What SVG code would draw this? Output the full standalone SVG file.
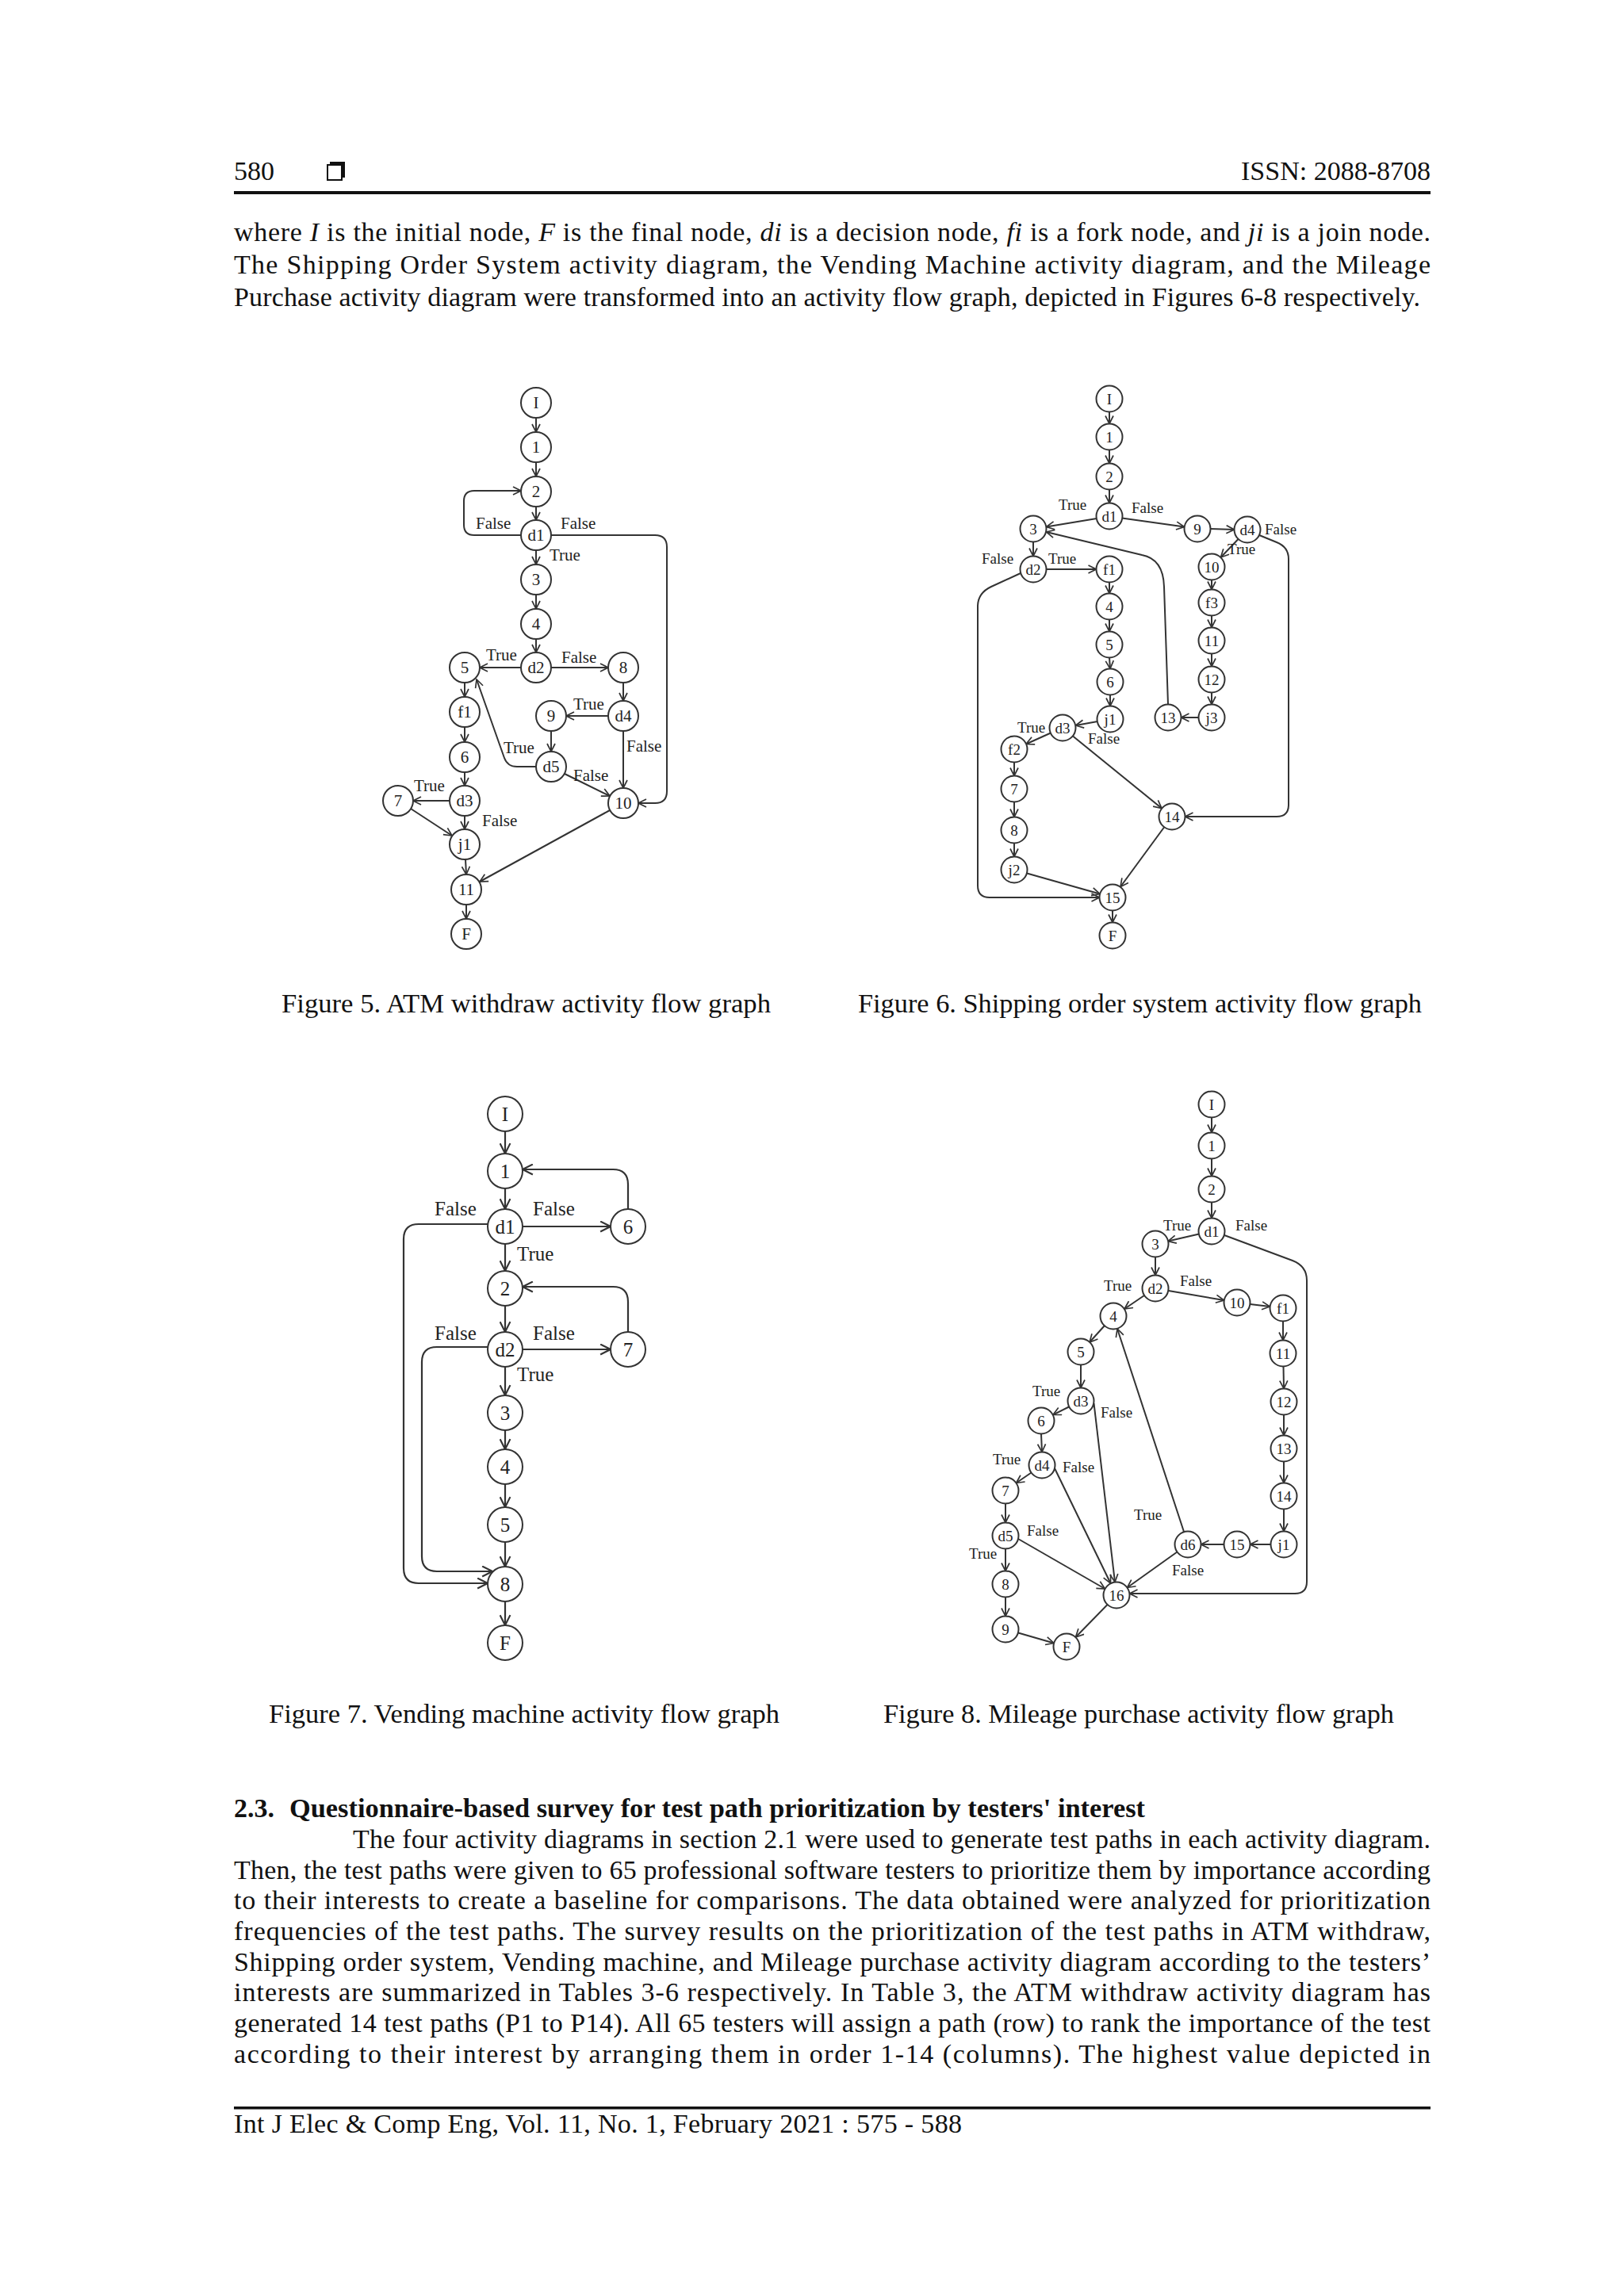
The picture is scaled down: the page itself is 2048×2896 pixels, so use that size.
<svg xmlns="http://www.w3.org/2000/svg" width="2048" height="2896" viewBox="0 0 2048 2896">
<style>
.pg{font-family:"Liberation Serif","Times New Roman",serif;font-size:34px;fill:#111}
.b{font-weight:bold}
.n circle{fill:#fff;stroke:#333;stroke-width:2}
.n text{font-family:"Liberation Serif","Times New Roman",serif;fill:#222;text-anchor:middle}
.f5 text{font-size:21px}
.f6 text,.f8 text{font-size:19px}
.f7 text{font-size:25px}
.e path{fill:none;stroke:#333;stroke-width:2;marker-end:url(#arr)}
.e7 path{fill:none;stroke:#333;stroke-width:2.2;marker-end:url(#arrL)}
.lb{font-family:"Liberation Serif","Times New Roman",serif;fill:#222}
.l5{font-size:21px}.l6{font-size:19px}.l7{font-size:25px}
</style>
<defs>
<marker id="arr" viewBox="0 0 12 12" refX="11" refY="6" markerWidth="12" markerHeight="12" markerUnits="userSpaceOnUse" orient="auto"><path d="M1,1 L11,6 L1,11" fill="none" stroke="#333" stroke-width="1.7"/></marker>
<marker id="arrL" viewBox="0 0 14 14" refX="13" refY="7" markerWidth="15" markerHeight="15" markerUnits="userSpaceOnUse" orient="auto"><path d="M1,1 L13,7 L1,13" fill="none" stroke="#333" stroke-width="2"/></marker>
</defs>
<rect width="2048" height="2896" fill="#fff"/>

<!-- header -->
<g id="header">
<text class="pg" x="295" y="227">580</text>
<rect x="413" y="208" width="18" height="19" fill="#fff" stroke="#111" stroke-width="2"/>
<path d="M416,204 L435,204 L435,224 L431,224 L431,208 L416,208 Z" fill="#111"/>
<text class="pg" x="1804" y="227" text-anchor="end">ISSN: 2088-8708</text>
<rect x="295" y="241" width="1509" height="4" fill="#111"/>
</g>

<g id="intro">
<text class="pg" x="295" y="304" textLength="1509" lengthAdjust="spacing">where <tspan font-style="italic">I</tspan> is the initial node, <tspan font-style="italic">F</tspan> is the final node, <tspan font-style="italic">di</tspan> is a decision node, <tspan font-style="italic">fi</tspan> is a fork node, and <tspan font-style="italic">ji</tspan> is a join node.</text>
<text class="pg" x="295" y="345" textLength="1509" lengthAdjust="spacing">The Shipping Order System activity diagram, the Vending Machine activity diagram, and the Mileage</text>
<text class="pg" x="295" y="386" textLength="1496" lengthAdjust="spacing">Purchase activity diagram were transformed into an activity flow graph, depicted in Figures 6-8 respectively.</text>
</g>

<!-- ================= Figure 5 ================= -->
<g id="fig5">
<g id="fig5-edges" class="e">
<path d="M676,527 L676,545"/>
<path d="M676,583 L676,601"/>
<path d="M676,639 L676,656"/>
<path d="M676,694 L676,712"/>
<path d="M676,750 L676,768"/>
<path d="M676,806 L676,823"/>
<path d="M657,842 L605,842"/>
<path d="M695,842 L767,842"/>
<path d="M786,861 L786,884"/>
<path d="M767,903 L714,903"/>
<path d="M786,922 L786,994"/>
<path d="M695,922 L695,948"/>
<path d="M712,976 L769,1004"/>
<path d="M676,967 L652,967 Q640,967 636,956 L601,857"/>
<path d="M586,861 L586,879"/>
<path d="M586,917 L586,936"/>
<path d="M586,974 L586,991"/>
<path d="M567,1010 L521,1010"/>
<path d="M586,1029 L586,1046"/>
<path d="M587,1084 L588,1103"/>
<path d="M588,1141 L588,1159"/>
<path d="M518,1020 L570,1054"/>
<path d="M769,1022 L605,1112"/>
<path d="M695,675 L826,675 Q841,675 841,690 L841,998 Q841,1013 826,1013 L805,1013"/>
<path d="M657,675 L598,675 Q585,675 585,662 L585,632 Q585,619 598,619 L657,619"/>
</g>
<g class="n f5">
<g id="f5-I"><circle cx="676" cy="508" r="19"/><text x="676" y="515">I</text></g>
<g id="f5-1"><circle cx="676" cy="564" r="19"/><text x="676" y="571">1</text></g>
<g id="f5-2"><circle cx="676" cy="620" r="19"/><text x="676" y="627">2</text></g>
<g id="f5-d1"><circle cx="676" cy="675" r="19"/><text x="676" y="682">d1</text></g>
<g id="f5-3"><circle cx="676" cy="731" r="19"/><text x="676" y="738">3</text></g>
<g id="f5-4"><circle cx="676" cy="787" r="19"/><text x="676" y="794">4</text></g>
<g id="f5-d2"><circle cx="676" cy="842" r="19"/><text x="676" y="849">d2</text></g>
<g id="f5-5"><circle cx="586" cy="842" r="19"/><text x="586" y="849">5</text></g>
<g id="f5-8"><circle cx="786" cy="842" r="19"/><text x="786" y="849">8</text></g>
<g id="f5-f1"><circle cx="586" cy="898" r="19"/><text x="586" y="905">f1</text></g>
<g id="f5-6"><circle cx="586" cy="955" r="19"/><text x="586" y="962">6</text></g>
<g id="f5-d3"><circle cx="586" cy="1010" r="19"/><text x="586" y="1017">d3</text></g>
<g id="f5-7"><circle cx="502" cy="1010" r="19"/><text x="502" y="1017">7</text></g>
<g id="f5-j1"><circle cx="586" cy="1065" r="19"/><text x="586" y="1072">j1</text></g>
<g id="f5-11"><circle cx="588" cy="1122" r="19"/><text x="588" y="1129">11</text></g>
<g id="f5-F"><circle cx="588" cy="1178" r="19"/><text x="588" y="1185">F</text></g>
<g id="f5-d4"><circle cx="786" cy="903" r="19"/><text x="786" y="910">d4</text></g>
<g id="f5-9"><circle cx="695" cy="903" r="19"/><text x="695" y="910">9</text></g>
<g id="f5-d5"><circle cx="695" cy="967" r="19"/><text x="695" y="974">d5</text></g>
<g id="f5-10"><circle cx="786" cy="1013" r="19"/><text x="786" y="1020">10</text></g>
</g>
<g id="fig5-labels" class="lb l5">
<text x="600" y="667">False</text>
<text x="707" y="667">False</text>
<text x="693" y="707">True</text>
<text x="613" y="833">True</text>
<text x="708" y="836">False</text>
<text x="723" y="895">True</text>
<text x="790" y="948">False</text>
<text x="635" y="950">True</text>
<text x="723" y="985">False</text>
<text x="522" y="998">True</text>
<text x="608" y="1042">False</text>
</g>
</g>

<!-- ================= Figure 6 ================= -->
<g id="fig6">
<g id="fig6-edges" class="e">
<path d="M1399,519.5 L1399,534.5"/>
<path d="M1399,567.5 L1399,584.5"/>
<path d="M1399,617.5 L1399,634.5"/>
<path d="M1383,654 L1319.5,664.5"/>
<path d="M1415,653.5 L1493.5,664.5"/>
<path d="M1526.5,667 L1556.5,668"/>
<path d="M1561.5,680 L1539.5,703"/>
<path d="M1588,675 L1610,684 Q1625,690 1625,705 L1625,1015 Q1625,1030 1610,1030 L1494.5,1030"/>
<path d="M1303,683.5 L1303,701.5"/>
<path d="M1319.5,718 L1382.5,718"/>
<path d="M1287,723 L1250,740 Q1233,748 1233,765 L1233,1117 Q1233,1132 1248,1132 L1386.5,1132"/>
<path d="M1473,888.5 L1468,740 Q1467,705 1440,700 L1319.5,671"/>
<path d="M1399,734.5 L1399,748.5"/>
<path d="M1399,781.5 L1399,796.5"/>
<path d="M1399,829.5 L1400,843.5"/>
<path d="M1400,876.5 L1400,890.5"/>
<path d="M1384,910 L1356.5,915"/>
<path d="M1325,924.5 L1294,938.5"/>
<path d="M1353,928.5 L1465,1019.5"/>
<path d="M1279,961.5 L1279,978.5"/>
<path d="M1279,1011.5 L1279,1030.5"/>
<path d="M1279,1063.5 L1279,1080.5"/>
<path d="M1295,1101.5 L1387,1127.5"/>
<path d="M1468,1043.5 L1413,1118.5"/>
<path d="M1403,1148.5 L1403,1163.5"/>
<path d="M1528,731.5 L1528,743.5"/>
<path d="M1528,776.5 L1528,791.5"/>
<path d="M1528,824.5 L1528,840.5"/>
<path d="M1528,873.5 L1528,888.5"/>
<path d="M1511.5,905 L1489.5,905"/>
</g>
<g class="n f6">
<g id="f6-I"><circle cx="1399" cy="503" r="16.5"/><text x="1399" y="509.5">I</text></g>
<g id="f6-1"><circle cx="1399" cy="551" r="16.5"/><text x="1399" y="557.5">1</text></g>
<g id="f6-2"><circle cx="1399" cy="601" r="16.5"/><text x="1399" y="607.5">2</text></g>
<g id="f6-d1"><circle cx="1399" cy="651" r="16.5"/><text x="1399" y="657.5">d1</text></g>
<g id="f6-3"><circle cx="1303" cy="667" r="16.5"/><text x="1303" y="673.5">3</text></g>
<g id="f6-9"><circle cx="1510" cy="667" r="16.5"/><text x="1510" y="673.5">9</text></g>
<g id="f6-d4"><circle cx="1573" cy="668" r="16.5"/><text x="1573" y="674.5">d4</text></g>
<g id="f6-d2"><circle cx="1303" cy="718" r="16.5"/><text x="1303" y="724.5">d2</text></g>
<g id="f6-f1"><circle cx="1399" cy="718" r="16.5"/><text x="1399" y="724.5">f1</text></g>
<g id="f6-4"><circle cx="1399" cy="765" r="16.5"/><text x="1399" y="771.5">4</text></g>
<g id="f6-5"><circle cx="1399" cy="813" r="16.5"/><text x="1399" y="819.5">5</text></g>
<g id="f6-6"><circle cx="1400" cy="860" r="16.5"/><text x="1400" y="866.5">6</text></g>
<g id="f6-j1"><circle cx="1400" cy="907" r="16.5"/><text x="1400" y="913.5">j1</text></g>
<g id="f6-10"><circle cx="1528" cy="715" r="16.5"/><text x="1528" y="721.5">10</text></g>
<g id="f6-f3"><circle cx="1528" cy="760" r="16.5"/><text x="1528" y="766.5">f3</text></g>
<g id="f6-11"><circle cx="1528" cy="808" r="16.5"/><text x="1528" y="814.5">11</text></g>
<g id="f6-12"><circle cx="1528" cy="857" r="16.5"/><text x="1528" y="863.5">12</text></g>
<g id="f6-j3"><circle cx="1528" cy="905" r="16.5"/><text x="1528" y="911.5">j3</text></g>
<g id="f6-13"><circle cx="1473" cy="905" r="16.5"/><text x="1473" y="911.5">13</text></g>
<g id="f6-d3"><circle cx="1340" cy="918" r="16.5"/><text x="1340" y="924.5">d3</text></g>
<g id="f6-f2"><circle cx="1279" cy="945" r="16.5"/><text x="1279" y="951.5">f2</text></g>
<g id="f6-7"><circle cx="1279" cy="995" r="16.5"/><text x="1279" y="1001.5">7</text></g>
<g id="f6-8"><circle cx="1279" cy="1047" r="16.5"/><text x="1279" y="1053.5">8</text></g>
<g id="f6-j2"><circle cx="1279" cy="1097" r="16.5"/><text x="1279" y="1103.5">j2</text></g>
<g id="f6-14"><circle cx="1478" cy="1030" r="16.5"/><text x="1478" y="1036.5">14</text></g>
<g id="f6-15"><circle cx="1403" cy="1132" r="16.5"/><text x="1403" y="1138.5">15</text></g>
<g id="f6-F"><circle cx="1403" cy="1180" r="16.5"/><text x="1403" y="1186.5">F</text></g>
</g>
<g id="fig6-labels" class="lb l6">
<text x="1335" y="643">True</text>
<text x="1427" y="647">False</text>
<text x="1595" y="674">False</text>
<text x="1548" y="699">True</text>
<text x="1238" y="711">False</text>
<text x="1322" y="711">True</text>
<text x="1283" y="924">True</text>
<text x="1372" y="938">False</text>
</g>
</g>

<g id="captions1">
<text class="pg" x="355" y="1277" textLength="617" lengthAdjust="spacingAndGlyphs">Figure 5. ATM withdraw activity flow graph</text>
<text class="pg" x="1082" y="1277" textLength="711" lengthAdjust="spacingAndGlyphs">Figure 6. Shipping order system activity flow graph</text>
</g>

<!-- ================= Figure 7 ================= -->
<g id="fig7">
<g id="fig7-edges" class="e7">
<path d="M637,1427 L637,1455"/>
<path d="M637,1499 L637,1525"/>
<path d="M637,1569 L637,1603"/>
<path d="M637,1647 L637,1680"/>
<path d="M637,1724 L637,1760"/>
<path d="M637,1804 L637,1828"/>
<path d="M637,1872 L637,1901"/>
<path d="M637,1945 L637,1976"/>
<path d="M637,2020 L637,2050"/>
<path d="M659,1547 L770,1547"/>
<path d="M659,1702 L770,1702"/>
<path d="M792,1525 L792,1494 Q792,1475 773,1475 L659,1475"/>
<path d="M792,1680 L792,1642 Q792,1623 773,1623 L659,1623"/>
<path d="M615,1544 L528,1544 Q509,1544 509,1563 L509,1978 Q509,1997 528,1997 L615,1997"/>
<path d="M615,1699 L551,1699 Q532,1699 532,1718 L532,1963 Q532,1982 551,1982 L621,1982"/>
</g>
<g class="n f7">
<g id="f7-I"><circle cx="637" cy="1405" r="22"/><text x="637" y="1413.5">I</text></g>
<g id="f7-1"><circle cx="637" cy="1477" r="22"/><text x="637" y="1485.5">1</text></g>
<g id="f7-d1"><circle cx="637" cy="1547" r="22"/><text x="637" y="1555.5">d1</text></g>
<g id="f7-6"><circle cx="792" cy="1547" r="22"/><text x="792" y="1555.5">6</text></g>
<g id="f7-2"><circle cx="637" cy="1625" r="22"/><text x="637" y="1633.5">2</text></g>
<g id="f7-d2"><circle cx="637" cy="1702" r="22"/><text x="637" y="1710.5">d2</text></g>
<g id="f7-7"><circle cx="792" cy="1702" r="22"/><text x="792" y="1710.5">7</text></g>
<g id="f7-3"><circle cx="637" cy="1782" r="22"/><text x="637" y="1790.5">3</text></g>
<g id="f7-4"><circle cx="637" cy="1850" r="22"/><text x="637" y="1858.5">4</text></g>
<g id="f7-5"><circle cx="637" cy="1923" r="22"/><text x="637" y="1931.5">5</text></g>
<g id="f7-8"><circle cx="637" cy="1998" r="22"/><text x="637" y="2006.5">8</text></g>
<g id="f7-F"><circle cx="637" cy="2072" r="22"/><text x="637" y="2080.5">F</text></g>
</g>
<g id="fig7-labels" class="lb l7">
<text x="548" y="1533">False</text>
<text x="672" y="1533">False</text>
<text x="652" y="1590">True</text>
<text x="548" y="1690">False</text>
<text x="672" y="1690">False</text>
<text x="652" y="1742">True</text>
</g>
</g>

<!-- ================= Figure 8 ================= -->
<g id="fig8">
<g id="fig8-edges" class="e">
<path d="M1528,1409.5 L1528,1428.5"/>
<path d="M1528,1461.5 L1528,1483.5"/>
<path d="M1528,1516.5 L1528,1536.5"/>
<path d="M1512,1556.5 L1473,1565.5"/>
<path d="M1544,1558 L1630,1590 Q1648,1597 1648,1615 L1648,1995 Q1648,2010 1633,2010 L1424.5,2010"/>
<path d="M1457,1585.5 L1457,1608.5"/>
<path d="M1443,1634 L1418,1651"/>
<path d="M1473.5,1628 L1543.5,1640"/>
<path d="M1576.5,1645 L1601.5,1648"/>
<path d="M1618,1666.5 L1618,1690.5"/>
<path d="M1618.5,1723.5 L1619,1751.5"/>
<path d="M1619,1784.5 L1619,1810.5"/>
<path d="M1619,1843.5 L1619,1870.5"/>
<path d="M1619,1903.5 L1619,1931.5"/>
<path d="M1602.5,1948 L1576.5,1948"/>
<path d="M1543.5,1948 L1514.5,1948"/>
<path d="M1493,1932 L1409,1676"/>
<path d="M1484.5,1957.5 L1421.5,2002.5"/>
<path d="M1393,1672 L1374,1693"/>
<path d="M1363,1721.5 L1363,1750.5"/>
<path d="M1348,1774.5 L1328,1784.5"/>
<path d="M1379.5,1770 L1406,1995.5"/>
<path d="M1313,1808.5 L1314,1831.5"/>
<path d="M1300.5,1857.5 L1281.5,1870.5"/>
<path d="M1330,1852 L1400.5,1997"/>
<path d="M1268,1896.5 L1268,1920.5"/>
<path d="M1284,1941 L1393.5,2004"/>
<path d="M1268,1953.5 L1268,1981.5"/>
<path d="M1268,2014.5 L1268,2038.5"/>
<path d="M1284,2059.5 L1329,2072.5"/>
<path d="M1396.5,2024 L1356.5,2065"/>
</g>
<g class="n f8">
<g id="f8-I"><circle cx="1528" cy="1393" r="16.5"/><text x="1528" y="1399.5">I</text></g>
<g id="f8-1"><circle cx="1528" cy="1445" r="16.5"/><text x="1528" y="1451.5">1</text></g>
<g id="f8-2"><circle cx="1528" cy="1500" r="16.5"/><text x="1528" y="1506.5">2</text></g>
<g id="f8-d1"><circle cx="1528" cy="1553" r="16.5"/><text x="1528" y="1559.5">d1</text></g>
<g id="f8-3"><circle cx="1457" cy="1569" r="16.5"/><text x="1457" y="1575.5">3</text></g>
<g id="f8-d2"><circle cx="1457" cy="1625" r="16.5"/><text x="1457" y="1631.5">d2</text></g>
<g id="f8-10"><circle cx="1560" cy="1643" r="16.5"/><text x="1560" y="1649.5">10</text></g>
<g id="f8-f1"><circle cx="1618" cy="1650" r="16.5"/><text x="1618" y="1656.5">f1</text></g>
<g id="f8-11"><circle cx="1618" cy="1707" r="16.5"/><text x="1618" y="1713.5">11</text></g>
<g id="f8-4"><circle cx="1404" cy="1660" r="16.5"/><text x="1404" y="1666.5">4</text></g>
<g id="f8-5"><circle cx="1363" cy="1705" r="16.5"/><text x="1363" y="1711.5">5</text></g>
<g id="f8-d3"><circle cx="1363" cy="1767" r="16.5"/><text x="1363" y="1773.5">d3</text></g>
<g id="f8-6"><circle cx="1313" cy="1792" r="16.5"/><text x="1313" y="1798.5">6</text></g>
<g id="f8-d4"><circle cx="1314" cy="1848" r="16.5"/><text x="1314" y="1854.5">d4</text></g>
<g id="f8-7"><circle cx="1268" cy="1880" r="16.5"/><text x="1268" y="1886.5">7</text></g>
<g id="f8-d5"><circle cx="1268" cy="1937" r="16.5"/><text x="1268" y="1943.5">d5</text></g>
<g id="f8-8"><circle cx="1268" cy="1998" r="16.5"/><text x="1268" y="2004.5">8</text></g>
<g id="f8-9"><circle cx="1268" cy="2055" r="16.5"/><text x="1268" y="2061.5">9</text></g>
<g id="f8-F"><circle cx="1345" cy="2077" r="16.5"/><text x="1345" y="2083.5">F</text></g>
<g id="f8-16"><circle cx="1408" cy="2012" r="16.5"/><text x="1408" y="2018.5">16</text></g>
<g id="f8-d6"><circle cx="1498" cy="1948" r="16.5"/><text x="1498" y="1954.5">d6</text></g>
<g id="f8-15"><circle cx="1560" cy="1948" r="16.5"/><text x="1560" y="1954.5">15</text></g>
<g id="f8-j1"><circle cx="1619" cy="1948" r="16.5"/><text x="1619" y="1954.5">j1</text></g>
<g id="f8-12"><circle cx="1619" cy="1768" r="16.5"/><text x="1619" y="1774.5">12</text></g>
<g id="f8-13"><circle cx="1619" cy="1827" r="16.5"/><text x="1619" y="1833.5">13</text></g>
<g id="f8-14"><circle cx="1619" cy="1887" r="16.5"/><text x="1619" y="1893.5">14</text></g>
</g>
<g id="fig8-labels" class="lb l6">
<text x="1467" y="1552">True</text>
<text x="1558" y="1552">False</text>
<text x="1392" y="1628">True</text>
<text x="1488" y="1622">False</text>
<text x="1302" y="1761">True</text>
<text x="1388" y="1788">False</text>
<text x="1252" y="1847">True</text>
<text x="1340" y="1857">False</text>
<text x="1295" y="1937">False</text>
<text x="1222" y="1966">True</text>
<text x="1430" y="1917">True</text>
<text x="1478" y="1987">False</text>
</g>
</g>

<g id="captions2">
<text class="pg" x="339" y="2173" textLength="644" lengthAdjust="spacingAndGlyphs">Figure 7. Vending machine activity flow graph</text>
<text class="pg" x="1114" y="2173" textLength="644" lengthAdjust="spacingAndGlyphs">Figure 8. Mileage purchase activity flow graph</text>
</g>

<g id="section">
<text class="pg b" x="295" y="2292">2.3.</text>
<text class="pg b" x="365" y="2292" textLength="1079" lengthAdjust="spacingAndGlyphs">Questionnaire-based survey for test path prioritization by testers' interest</text>
<text class="pg" x="445" y="2331" textLength="1359" lengthAdjust="spacing">The four activity diagrams in section 2.1 were used to generate test paths in each activity diagram.</text>
<text class="pg" x="295" y="2370" textLength="1509" lengthAdjust="spacing">Then, the test paths were given to 65 professional software testers to prioritize them by importance according</text>
<text class="pg" x="295" y="2408" textLength="1509" lengthAdjust="spacing">to their interests to create a baseline for comparisons. The data obtained were analyzed for prioritization</text>
<text class="pg" x="295" y="2447" textLength="1509" lengthAdjust="spacing">frequencies of the test paths. The survey results on the prioritization of the test paths in ATM withdraw,</text>
<text class="pg" x="295" y="2486" textLength="1509" lengthAdjust="spacing">Shipping order system, Vending machine, and Mileage purchase activity diagram according to the testers’</text>
<text class="pg" x="295" y="2524" textLength="1509" lengthAdjust="spacing">interests are summarized in Tables 3-6 respectively. In Table 3, the ATM withdraw activity diagram has</text>
<text class="pg" x="295" y="2563" textLength="1509" lengthAdjust="spacing">generated 14 test paths (P1 to P14). All 65 testers will assign a path (row) to rank the importance of the test</text>
<text class="pg" x="295" y="2602" textLength="1509" lengthAdjust="spacing">according to their interest by arranging them in order 1-14 (columns). The highest value depicted in</text>
</g>

<g id="footer">
<rect x="295" y="2657" width="1509" height="3.5" fill="#111"/>
<text class="pg" x="295" y="2690" textLength="918" lengthAdjust="spacing">Int J Elec &amp; Comp Eng, Vol. 11, No. 1, February 2021 :  575 - 588</text>
</g>
</svg>
